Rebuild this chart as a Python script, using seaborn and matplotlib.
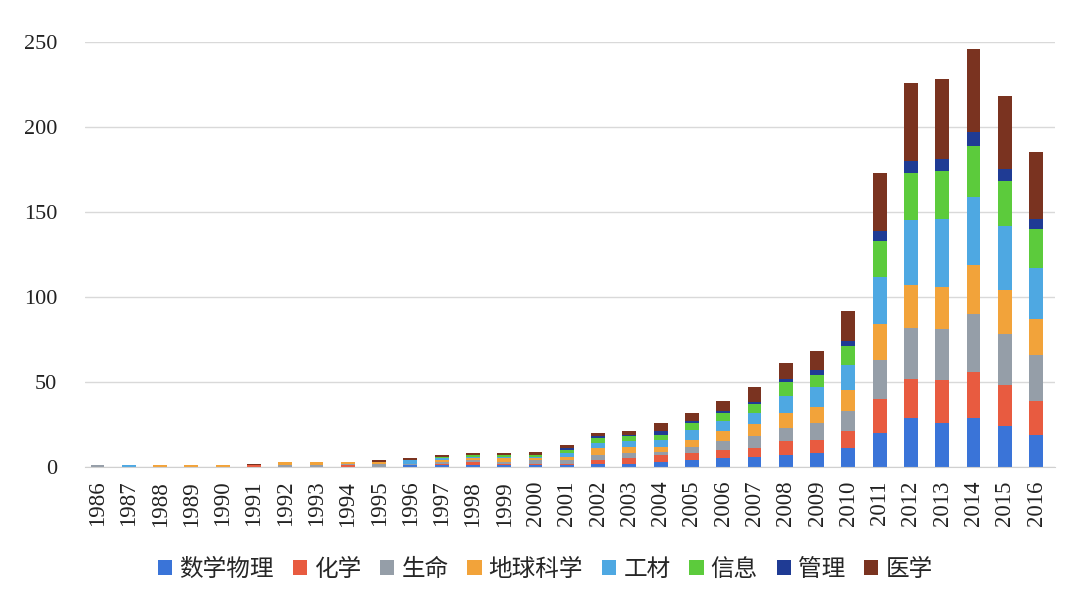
import matplotlib
matplotlib.use("Agg")
import matplotlib.pyplot as plt
from matplotlib.patches import Patch
import numpy as np
import pandas as pd
import seaborn as sns

years = [str(y) for y in range(1986, 2017)]
categories = ["数学物理", "化学", "生命", "地球科学", "工材", "信息", "管理", "医学"]
colors = ["#3a74d8", "#e85b40", "#959ea8", "#f2a33a", "#4ea8e2", "#5ccb3c", "#1f3b94", "#7a3320"]

# per-discipline counts, 1986..2016
math_phys = [0, 0, 0, 0, 0, 0, 0, 0, 0, 0, 1, 1, 1, 1, 1, 1, 2, 2, 3, 4, 5, 6, 7, 8, 11, 20, 29, 26, 29, 24, 19]
chemistry = [0, 0, 0, 0, 0, 1, 0, 0, 1, 0, 0, 1, 2, 1, 1, 1, 2, 3, 4, 4, 5, 5, 8, 8, 10, 20, 23, 25, 27, 24, 20]
life = [1, 0, 0, 0, 0, 0, 1, 1, 1, 2, 1, 1, 1, 1, 2, 2, 3, 3, 2, 4, 5, 7, 8, 10, 12, 23, 30, 30, 34, 30, 27]
earth = [0, 0, 1, 1, 1, 0, 2, 2, 1, 1, 0, 1, 1, 2, 1, 2, 4, 4, 3, 4, 6, 7, 9, 9, 12, 21, 25, 25, 29, 26, 21]
eng_mat = [0, 1, 0, 0, 0, 0, 0, 0, 0, 0, 2, 1, 1, 1, 1, 2, 3, 3, 4, 6, 6, 7, 10, 12, 15, 28, 38, 40, 40, 38, 30]
info = [0, 0, 0, 0, 0, 0, 0, 0, 0, 0, 0, 1, 1, 1, 1, 2, 3, 3, 3, 4, 5, 5, 8, 7, 11, 21, 28, 28, 30, 26, 23]
mgmt = [0, 0, 0, 0, 0, 0, 0, 0, 0, 0, 0, 0, 0, 0, 0, 1, 1, 1, 2, 1, 1, 1, 2, 3, 3, 6, 7, 7, 8, 7, 6]
medicine = [0, 0, 0, 0, 0, 1, 0, 0, 0, 1, 1, 1, 1, 1, 2, 2, 2, 2, 5, 5, 6, 9, 9, 11, 18, 34, 46, 47, 49, 43, 39]

series = [math_phys, chemistry, life, earth, eng_mat, info, mgmt, medicine]

df = pd.DataFrame({"year": years})
for name, vals in zip(categories, series):
    df[name] = vals
cum = df[categories].cumsum(axis=1)

sns.set_style("white")
plt.rcParams["font.family"] = ["Liberation Serif", "Noto Sans CJK SC"]

fig = plt.figure(figsize=(10.8, 6.02), dpi=100)
ax = fig.add_axes([0.0787, 0.2243, 0.898, 0.706])

# draw cumulative totals from the top layer down so each layer shows as a stacked segment
for name, color in reversed(list(zip(categories, colors))):
    sns.barplot(x=df["year"], y=cum[name], color=color, saturation=1,
                width=0.44, ax=ax, linewidth=0)

ax.set_ylim(0, 250)
ax.set_xlim(-0.4, 30.6)
ax.set_yticks(range(0, 251, 50))
ax.yaxis.grid(True, color="#d9d9d9", linewidth=1)
ax.set_axisbelow(True)
for side in ["left", "top", "right"]:
    ax.spines[side].set_visible(False)
ax.spines["bottom"].set_color("#d0d0d0")
ax.set_xlabel("")
ax.set_ylabel("")
ax.tick_params(axis="y", length=0, pad=20, labelsize=16, labelcolor="#222222")
ax.tick_params(axis="x", length=0, pad=10, labelsize=16.5, labelcolor="#222222", rotation=90)

handles = [Patch(facecolor=c, edgecolor="none") for c in colors]
fig.legend(handles, categories, loc="center", bbox_to_anchor=(0.505, 0.054), ncol=8,
           frameon=False, handlelength=0.6, handleheight=0.6, handletextpad=0.3,
           columnspacing=0.8, prop={"family": "Noto Sans CJK SC", "size": 17})

fig.savefig("out.png", dpi=100, facecolor="white")
